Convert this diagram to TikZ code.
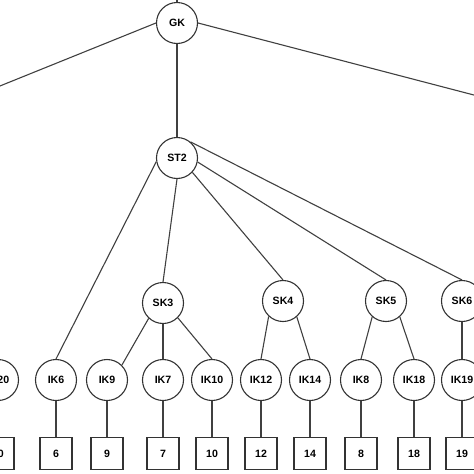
\documentclass[tikz,border=0pt]{standalone}
\usepackage{fontspec}
\setmainfont{Liberation Sans}
\usetikzlibrary{positioning}
\begin{document}
\begin{tikzpicture}[x=1pt, y=-1pt,
		every node/.style={font=\fontsize{10.6}{12}\selectfont\bfseries},
		knot/.style={circle, draw=black!80, line width=1.1pt, minimum size=41pt, inner sep=0pt},
		leaf/.style={rectangle, draw=black!80, line width=1.1pt, minimum size=32pt, inner sep=0pt},
		edge/.style={draw=black!75, line width=1.1pt},
		]
	\useasboundingbox (0,0) rectangle (474,474);
	\clip (0,0) rectangle (474,474);
	% upper levels
	\node[knot] (gk) at (177,23) {GK};
	\node[knot] (st2) at (177,158) {ST2};
	\coordinate (up) at (177,-10);
	\coordinate (gkl) at (-10,90);
	\coordinate (gkr) at (480,96.6);
	\draw[edge] (gk) -- (up);
	\draw[edge] (gk.west) -- (gkl);
	\draw[edge] (gk.east) -- (gkr);
	\draw[edge] (gk) -- (st2);
	% sub keys
	\node[knot] (sk3) at (163,303) {SK3};
	\node[knot] (sk4) at (283,301) {SK4};
	\node[knot] (sk5) at (386,301) {SK5};
	\node[knot] (sk6) at (462,301) {SK6};
	% individual keys with their leaves
	\foreach \n/\x in {20/-2, 6/56, 9/107, 7/163, 10/212, 12/261, 14/310, 8/361, 18/414, 19/462}{
		\node[knot] (ik\n) at (\x,380) {IK\n};
		\node[leaf, below=36pt of ik\n] (b\n) {\n};
		\draw[edge] (ik\n) -- (b\n);
	}
	\draw[edge] (st2.190) -- (ik6.north);
	\draw[edge] (st2.south) -- (sk3.north);
	\draw[edge] (st2.-43) -- (sk4.north);
	\draw[edge] (st2.-11) -- (sk5.north);
	\draw[edge] (st2.50) -- (sk6.north);
	\draw[edge] (sk3.-133) -- (ik9.45);
	\draw[edge] (sk3) -- (ik7);
	\draw[edge] (sk3.-45) -- (ik10.north);
	\draw[edge] (sk4.-133) -- (ik12.north);
	\draw[edge] (sk4.-49) -- (ik14.north);
	\draw[edge] (sk5.-131) -- (ik8.north);
	\draw[edge] (sk5.-49) -- (ik18.north);
	\draw[edge] (sk6) -- (ik19);
\end{tikzpicture}
\end{document}
